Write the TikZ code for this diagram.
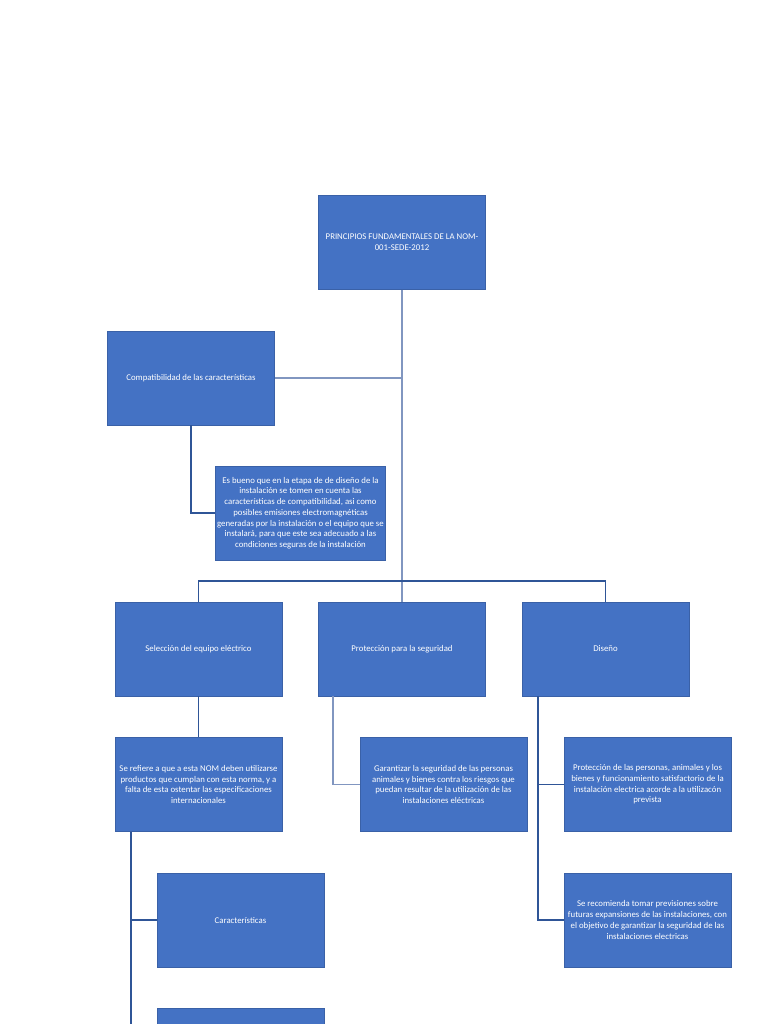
\documentclass[tikz,border=0pt]{standalone}
\usepackage{fontspec}
\setmainfont{Carlito}
\usetikzlibrary{calc}
\definecolor{cajaazul}{HTML}{4472C4}
\definecolor{lineagris}{HTML}{8196C0}
\definecolor{lineaazul}{HTML}{2F5597}
\tikzset{
  caja/.style={draw=cajaazul!85!black, fill=cajaazul, minimum width=3.34cm,
    minimum height=1.88cm, align=center, text=white,
    inner sep=1pt, font=\fontsize{5}{6.1}\selectfont},
  linea/.style={lineagris, line width=1pt},
  lineaosc/.style={lineaazul, line width=1pt}
}
\begin{document}
\begin{tikzpicture}[x=0.02cm, y=-0.02cm]
  \useasboundingbox (0,0) rectangle (768,1024);
  \clip (0,0) rectangle (768,1024);
  % cajas
  \node[caja] (raiz) at (402,242.5) {PRINCIPIOS FUNDAMENTALES DE LA NOM-\\001-SEDE-2012};
  \node[caja] (compat) at (191,378) {Compatibilidad de las características};
  \node[caja] (compatdesc) at (300.5,513) {Es bueno que en la etapa de de diseño de la\\instalación se tomen en cuenta las\\características de compatibilidad, asi como\\posibles emisiones electromagnéticas\\generadas por la instalación o el equipo que se\\instalará, para que este sea adecuado a las\\condiciones seguras de la instalación};
  \node[caja] (sel) at (198.5,649) {Selección del equipo eléctrico};
  \node[caja] (prot) at (402,649) {Protección para la seguridad};
  \node[caja] (dis) at (605.5,649) {Diseño};
  \node[caja] (seldesc) at (198.5,784.5) {Se refiere a que a esta NOM deben utilizarse\\productos que cumplan con esta norma, y a\\falta de esta ostentar las especificaciones\\internacionales};
  \node[caja] (protdesc) at (443.5,784.5) {Garantizar la seguridad de las personas\\animales y bienes contra los riesgos que\\puedan resultar de la utilización de las\\instalaciones eléctricas};
  \node[caja] (disuno) at (647.5,784.5) {Protección de las personas, animales y los\\bienes y funcionamiento satisfactorio de la\\instalación electrica acorde a la utilizacón\\prevista};
  \node[caja] (disdos) at (647.5,920) {Se recomienda tomar previsiones sobre\\futuras expansiones de las instalaciones, con\\el objetivo de garantizar la seguridad de las\\instalaciones electricas};
  \node[caja] (carac) at (240.5,920) {Características};
  \node[caja] (otra) at (240.5,1055) {};
  % conectores
  \coordinate (barra) at (402,581);
  \coordinate (ejeprot) at ($(prot.south west)+(15,0)$);
  \coordinate (ejedis) at ($(dis.south west)+(16,0)$);
  \coordinate (ejesel) at ($(seldesc.south west)+(16,0)$);
  \draw[linea] (raiz.south) -- (prot.north);
  \draw[linea] (compat.east) -- (compat.east -| raiz.south);
  \draw[lineaosc] (compat.south) |- (compatdesc.west);
  \draw[lineaosc] (sel.north) |- (barra) -| (dis.north);
  \draw[lineaosc] (sel.south) -- (seldesc.north);
  \draw[linea] (ejeprot) |- (protdesc.west);
  \draw[lineaosc] (ejedis) |- (disdos.west);
  \draw[lineaosc] (ejedis |- disuno.west) -- (disuno.west);
  \draw[lineaosc] (ejesel) |- (otra.west);
  \draw[lineaosc] (ejesel |- carac.west) -- (carac.west);
\end{tikzpicture}
\end{document}
